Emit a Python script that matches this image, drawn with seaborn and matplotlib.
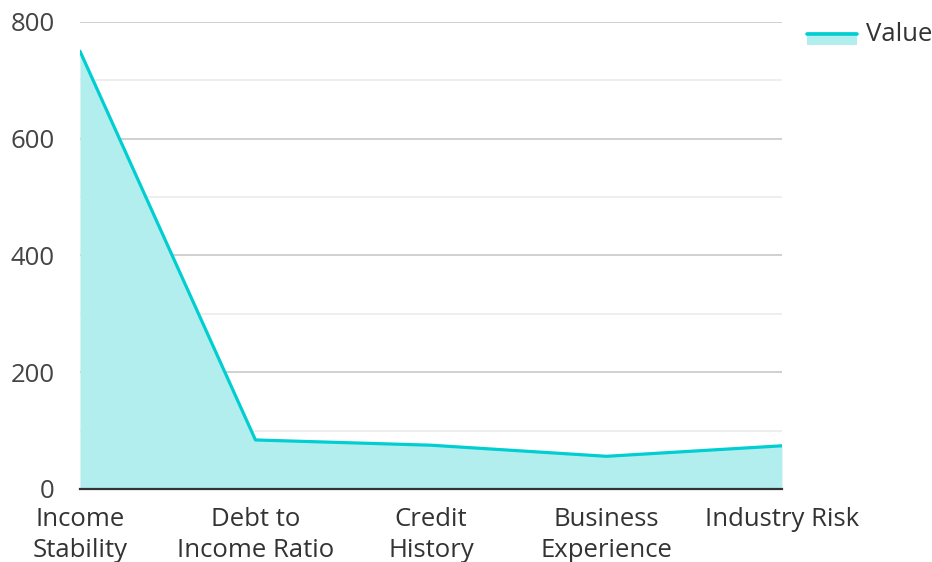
import matplotlib
matplotlib.use("Agg")
import matplotlib.pyplot as plt
import seaborn as sns
import pandas as pd
from matplotlib.lines import Line2D
from matplotlib.patches import Patch, Rectangle
from matplotlib.legend_handler import HandlerBase

categories = ["Income Stability", "Debt to Income Ratio", "Credit History", "Business Experience", "Industry Risk"]
tick_labels = ["Income\nStability", "Debt to\nIncome Ratio", "Credit\nHistory", "Business\nExperience", "Industry Risk"]
values = [750, 84, 75, 56, 74]
series_name = "Value"

sns.set_theme(style="white")
plt.rcParams['font.family'] = ['Open Sans', 'DejaVu Sans']

line_color = "#00CED1"
fill_color = "#B2EEEE"

df = pd.DataFrame({"category": categories, "value": values})

fig = plt.figure(figsize=(9.32, 5.62), dpi=100)
ax = fig.add_axes([0.0858, 0.1299, 0.839 - 0.0858, 0.9609 - 0.1299])

pos = list(range(len(categories)))
ax.fill_between(pos, 0, values, color=fill_color, linewidth=0, zorder=2)
sns.lineplot(data=df, x="category", y="value", ax=ax, color=line_color, linewidth=2.3,
             sort=False, zorder=3, legend=False)

ax.set_xlim(0, len(categories) - 1)
ax.set_ylim(0, 800)
ax.set_yticks([0, 200, 400, 600, 800])
for y in [100, 300, 500, 700]:
    ax.axhline(y, color="#ebebeb", linewidth=1.2, zorder=1)
for y in [200, 400, 600, 800]:
    ax.axhline(y, color="#c8c8c8", linewidth=1.2, zorder=1)

ax.set_xticks(pos)
ax.set_xticklabels(tick_labels, fontsize=18.5, color="#333333", linespacing=1.32)
ax.tick_params(axis="y", labelsize=18.5, labelcolor="#444444", length=0, pad=18)
ax.tick_params(axis="x", length=0, pad=13)
ax.set_xlabel("")
ax.set_ylabel("")
for s in ["top", "right", "left"]:
    ax.spines[s].set_visible(False)
ax.spines["bottom"].set_color("#333333")
ax.spines["bottom"].set_linewidth(1.6)
ax.spines["bottom"].set_zorder(4)


class AreaHandler(HandlerBase):
    def create_artists(self, legend, orig_handle, xdescent, ydescent, width, height, fontsize, trans):
        y0 = -ydescent + height / 2.0 - 9.5
        r = Rectangle((-xdescent, y0), width, 9.5, facecolor=fill_color,
                      edgecolor="none", transform=trans)
        ytop = y0 + 9.5 - 1.2
        l = Line2D([-xdescent, -xdescent + width], [ytop, ytop],
                   color=line_color, linewidth=2.6, transform=trans)
        return [r, l]


handle = Patch(facecolor=fill_color)
leg = fig.legend([handle], [series_name], handler_map={Patch: AreaHandler()},
                 loc="upper left", bbox_to_anchor=(807 / 932, 1 - 22 / 562), frameon=False,
                 fontsize=18.5, handlelength=1.95, handleheight=0.55, handletextpad=0.35,
                 borderpad=0, borderaxespad=0)
for t in leg.get_texts():
    t.set_color("#333333")

fig.savefig("out.png", dpi=100)
